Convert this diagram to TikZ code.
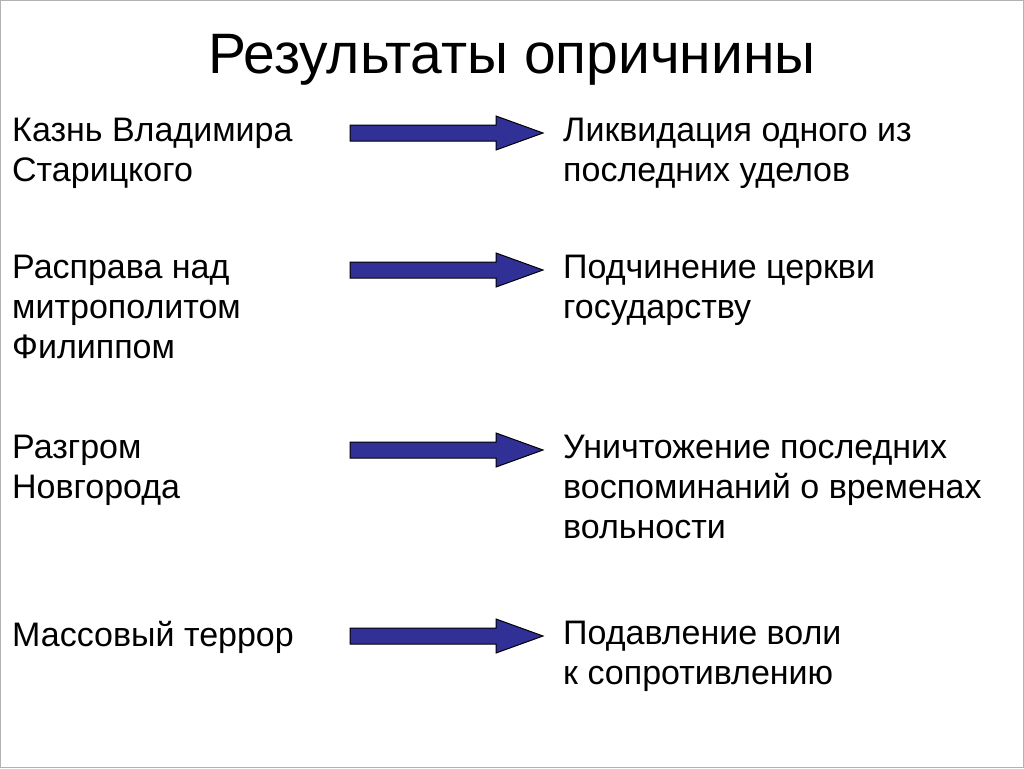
\documentclass[tikz,border=0pt]{standalone}
\usepackage{fontspec}
\setmainfont{Liberation Sans}
\begin{document}
\begin{tikzpicture}[x=1pt,y=-1pt,
  txt/.style={anchor=north west,align=left,inner sep=0pt,font=\fontsize{34}{40}\selectfont},
  arr/.style={draw=black,line width=1pt,fill=arrblue}]
\definecolor{arrblue}{RGB}{48,48,150}
\useasboundingbox (0,0) rectangle (1024,768);
\draw[gray!60,line width=1pt] (0.5,0.5) rectangle (1023.5,767.5);
\node[anchor=base,inner sep=0pt,font=\fontsize{57}{66}\selectfont] (title) at (512,73) {Результаты опричнины};
\foreach \y/\l/\r [count=\i] in {
  141/{Казнь Владимира\\Старицкого}/{Ликвидация одного из\\последних уделов},
  278/{Расправа над\\митрополитом\\Филиппом}/{Подчинение церкви\\государству},
  458/{Разгром\\Новгорода}/{Уничтожение последних\\воспоминаний о временах\\вольности},
  644/{Массовый террор}/{Подавление воли\\к сопротивлению}}{
  \node[txt] (l\i) at (12,\y-23) {\l};
  \node[txt] (r\i) at (563,\y-23) {\r};
  \coordinate (a\i) at (350,\y-16);
  \draw[arr] (a\i) -- ++(146,0) -- ++(0,-9) -- ++(47,17) -- ++(-47,17) -- ++(0,-9) -- ++(-146,0) -- cycle;
}
\end{tikzpicture}
\end{document}
